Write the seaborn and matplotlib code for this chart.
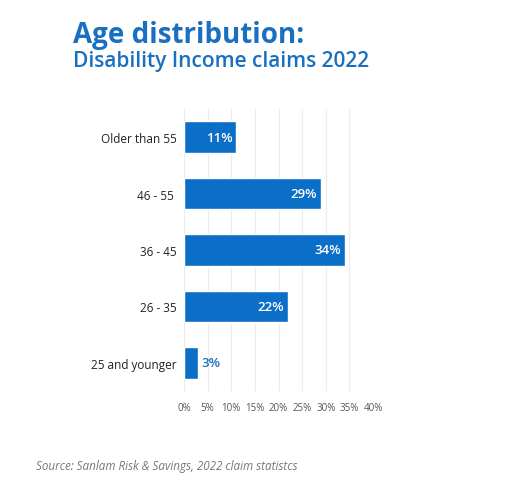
import matplotlib
matplotlib.use('Agg')
import matplotlib.pyplot as plt
import seaborn as sns
import pandas as pd

# 数据
age_groups = ['Older than 55', '46 - 55 ', '36 - 45', '26 - 35', '25 and younger']
claims_pct = [11, 29, 34, 22, 3]
x_ticks = [0, 5, 10, 15, 20, 25, 30, 35, 40]

df = pd.DataFrame({'age': age_groups, 'pct': claims_pct})

sns.set_style('white')
plt.rcParams['font.family'] = ['Open Sans', 'DejaVu Sans']

blue = '#0b6fc8'
title_blue = '#1a70c0'

fig = plt.figure(figsize=(5.27, 5.02), dpi=100)
ax = fig.add_axes([184 / 527, 1 - 392 / 502, (373 - 184) / 527, (392 - 110) / 502])

sns.barplot(data=df, x='pct', y='age', color=blue, saturation=1, width=0.56, ax=ax)

ax.set_xlim(0, 40)
ax.set_xticks(x_ticks)
ax.set_xticklabels([f'{t}%' for t in x_ticks], fontsize=7, color='#555555')
ax.tick_params(axis='x', length=0, pad=8)
ax.tick_params(axis='y', length=0, pad=5, labelsize=8.5, labelcolor='#222222')
ax.xaxis.grid(True, color='#ececec', linewidth=0.8)
ax.set_axisbelow(True)
ax.set_xlabel('')
ax.set_ylabel('')
for s in ax.spines.values():
    s.set_visible(False)

# 数值标签
for i, v in enumerate(claims_pct):
    if v >= 5:
        ax.text(v - 0.8, i, f'{v}%', ha='right', va='center', color='white',
                fontsize=9.5, fontweight='semibold')
    else:
        ax.text(v + 0.6, i, f'{v}%', ha='left', va='center', color=title_blue,
                fontsize=9.5, fontweight='semibold')

fig.text(73 / 527, 1 - 36 / 502, 'Age distribution:', fontsize=20, fontweight='bold',
         color=title_blue, va='center', ha='left')
fig.text(73 / 527, 1 - 61 / 502, 'Disability Income claims 2022', fontsize=15,
         fontweight='semibold', color=title_blue, va='center', ha='left')
fig.text(36 / 527, 1 - 467 / 502, 'Source: Sanlam Risk & Savings, 2022 claim statistcs',
         fontsize=8.4, style='italic', color='#777777', va='center', ha='left')

fig.savefig('out.png', dpi=100)
